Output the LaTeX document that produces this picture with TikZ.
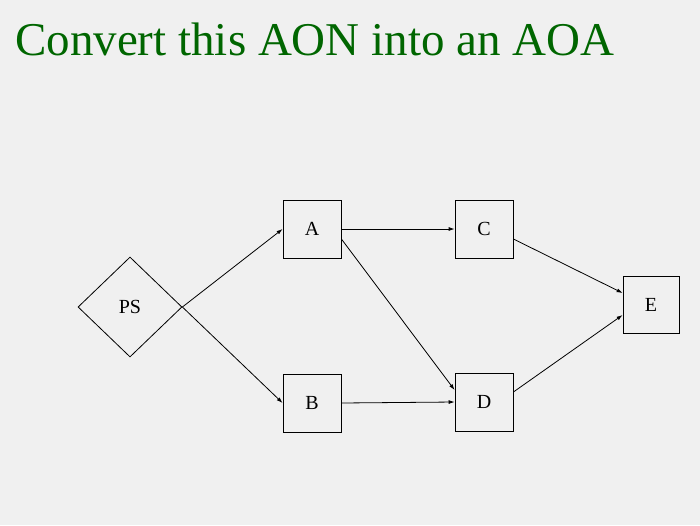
\documentclass[tikz,border=0pt]{standalone}
\usepackage{fontspec}
\setmainfont{Liberation Serif}
\usetikzlibrary{shapes.geometric,arrows.meta}
\begin{document}
\begin{tikzpicture}[x=1pt,y=-1pt,
  box/.style={draw,thick,minimum width=58pt,minimum height=58pt,inner sep=0pt,font=\fontsize{20}{22}\selectfont},
  dia/.style={draw,thick,diamond,minimum width=104pt,minimum height=100pt,inner sep=0pt,font=\fontsize{20}{22}\selectfont},
  arr/.style={-{Latex[length=6pt,width=4pt]},thick}]
\fill[gray!12] (0,0) rectangle (700,525);
\useasboundingbox (0,0) rectangle (700,525);
\node[anchor=base west,text=green!40!black,font=\fontsize{47}{50}\selectfont,inner sep=0pt] (title) at (15,55) {Convert this AON into an AOA};
\node[dia] (PS) at (130,307) {PS};
\node[box] (A) at (312,229) {A};
\node[box] (C) at (484,229) {C};
\node[box] (B) at (312,403) {B};
\node[box] (D) at (484,402) {D};
\node[box,minimum width=56pt,minimum height=57pt] (E) at (651,305) {E};
\draw[arr] (PS.east) -- (A.west);
\draw[arr] (PS.east) -- (B.west);
\draw[arr] (A.east) -- (C.west);
\draw[arr] (B.east) -- (D.west);
\draw[arr] ([yshift=-10pt]A.east) -- ([yshift=12pt]D.west);
\draw[arr] ([yshift=-10pt]C.east) -- ([yshift=12pt]E.west);
\draw[arr] ([yshift=10pt]D.east) -- ([yshift=-10pt]E.west);
\end{tikzpicture}
\end{document}
